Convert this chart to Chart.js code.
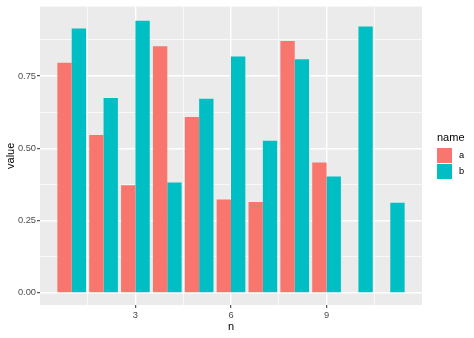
<!DOCTYPE html>
<html>
<head>
    <title>value by n</title>
    <style>
        body { margin: 0; background: #ffffff; }
        #wrap { width: 474px; height: 338px; position: relative; }
    </style>
    <script src="https://cdn.jsdelivr.net/npm/chart.js@4/dist/chart.umd.min.js"></script>
</head>
<body>
    <div id="wrap"><canvas id="chartCanvas"></canvas></div>

    <script>
        // data
        const nValues = [1, 2, 3, 4, 5, 6, 7, 8, 9, 10, 11];
        const seriesNames = ['a', 'b'];
        const valuesA = [0.796, 0.546, 0.372, 0.853, 0.608, 0.323, 0.314, 0.871, 0.451, null, null];
        const valuesB = [0.914, 0.674, 0.941, 0.382, 0.671, 0.817, 0.526, 0.808, 0.402, 0.921, 0.312];

        const xMajorTicks = [3, 6, 9];
        const xMinorTicks = [1.5, 4.5, 7.5, 10.5];
        const yMajorTicks = [0, 0.25, 0.5, 0.75];
        const yMinorTicks = [0.125, 0.375, 0.625, 0.875];
        const yTickLabels = ['0.00', '0.25', '0.50', '0.75'];

        const colA = '#F8766D';
        const colB = '#00BFC4';
        const textGrey = '#4D4D4D';
        const fontFam = '"Liberation Sans", Arial, sans-serif';

        function isMajor(list, v) {
            return list.some(m => Math.abs(m - v) < 1e-9);
        }

        // grey panel behind the grid
        const panelBg = {
            id: 'panelBg',
            beforeDraw(chart) {
                const a = chart.chartArea;
                const ctx = chart.ctx;
                ctx.save();
                ctx.fillStyle = '#EBEBEB';
                ctx.fillRect(a.left, a.top, a.right - a.left, a.bottom - a.top);
                ctx.restore();
            }
        };

        // ggplot style legend on the right
        const sideLegend = {
            id: 'sideLegend',
            afterDraw(chart) {
                const ctx = chart.ctx;
                const x = chart.chartArea.right + 15;
                ctx.save();
                ctx.textBaseline = 'middle';
                ctx.textAlign = 'left';
                ctx.fillStyle = '#000000';
                ctx.font = '11px ' + fontFam;
                ctx.fillText('name', x, 138);
                chart.data.datasets.forEach((ds, i) => {
                    const top = 148 + i * 16;
                    ctx.fillStyle = ds.backgroundColor;
                    ctx.fillRect(x, top, 15, 15);
                    ctx.fillStyle = '#000000';
                    ctx.font = '9.3px ' + fontFam;
                    ctx.fillText(ds.label, x + 22, top + 7.5);
                });
                ctx.restore();
            }
        };

        const chartData = {
            datasets: [{
                label: seriesNames[0],
                data: nValues.map((n, i) => ({ x: n, y: valuesA[i] })),
                backgroundColor: colA,
                categoryPercentage: 0.9,
                barPercentage: 1.0
            }, {
                label: seriesNames[1],
                data: nValues.map((n, i) => ({ x: n, y: valuesB[i] })),
                backgroundColor: colB,
                categoryPercentage: 0.9,
                barPercentage: 1.0
            }]
        };

        const chartOptions = {
            responsive: true,
            maintainAspectRatio: false,
            animation: false,
            layout: { padding: { left: 0, top: 4, right: 52, bottom: 0 } },
            scales: {
                x: {
                    type: 'linear',
                    min: 0.005,
                    max: 11.995,
                    offset: false,
                    afterBuildTicks(scale) {
                        scale.ticks = xMinorTicks.concat(xMajorTicks).sort((p, q) => p - q).map(v => ({ value: v }));
                    },
                    afterFit(scale) { scale.height = 33; },
                    ticks: {
                        autoSkip: false,
                        maxRotation: 0,
                        padding: 2,
                        color: textGrey,
                        font: { family: fontFam, size: 9.3 },
                        callback: v => isMajor(xMajorTicks, v) ? String(v) : ''
                    },
                    grid: {
                        offset: false,
                        color: '#FFFFFF',
                        lineWidth: c => isMajor(xMajorTicks, c.tick.value) ? 1.4 : 0.7,
                        tickColor: c => isMajor(xMajorTicks, c.tick.value) ? '#333333' : 'rgba(0,0,0,0)',
                        tickLength: 3,
                        tickWidth: 1
                    },
                    border: { display: false },
                    title: {
                        display: true,
                        text: 'n',
                        color: '#000000',
                        font: { family: fontFam, size: 11 },
                        padding: { top: 0, bottom: 4 }
                    }
                },
                y: {
                    min: -0.042,
                    max: 0.99,
                    afterBuildTicks(scale) {
                        scale.ticks = yMajorTicks.concat(yMinorTicks).sort((p, q) => p - q).map(v => ({ value: v }));
                    },
                    afterFit(scale) { scale.width = 40; },
                    ticks: {
                        autoSkip: false,
                        padding: 1,
                        color: textGrey,
                        font: { family: fontFam, size: 9.3 },
                        callback: v => {
                            const k = yMajorTicks.findIndex(m => Math.abs(m - v) < 1e-9);
                            return k >= 0 ? yTickLabels[k] : '';
                        }
                    },
                    grid: {
                        color: '#FFFFFF',
                        lineWidth: c => isMajor(yMajorTicks, c.tick.value) ? 1.4 : 0.7,
                        tickColor: c => isMajor(yMajorTicks, c.tick.value) ? '#333333' : 'rgba(0,0,0,0)',
                        tickLength: 3,
                        tickWidth: 1
                    },
                    border: { display: false },
                    title: {
                        display: true,
                        text: 'value',
                        color: '#000000',
                        font: { family: fontFam, size: 11 },
                        padding: { top: 4, bottom: 0 }
                    }
                }
            },
            plugins: {
                legend: { display: false },
                tooltip: { enabled: false }
            }
        };

        const chart = new Chart(document.getElementById('chartCanvas').getContext('2d'), {
            type: 'bar',
            data: chartData,
            options: chartOptions,
            plugins: [panelBg, sideLegend]
        });
    </script>
</body>
</html>
